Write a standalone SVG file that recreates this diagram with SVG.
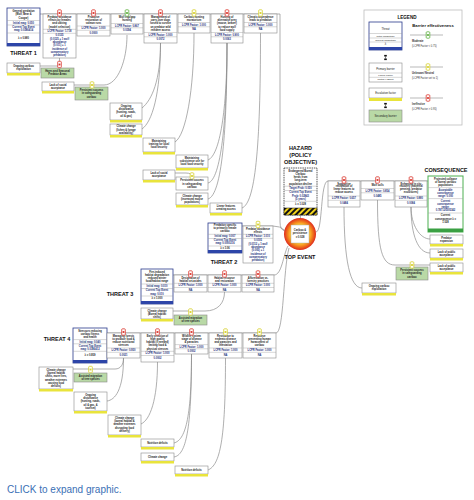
<svg xmlns="http://www.w3.org/2000/svg" xmlns:xlink="http://www.w3.org/1999/xlink" width="474" height="500" viewBox="0 0 474 500">
<style>
.bx{fill:#fff;stroke:#8a8a8a;stroke-width:0.6}
.th{fill:#fff;stroke:#2a3a8c;stroke-width:0.8}
.tb{fill:#2d45a8}
.sec{fill:#b9d9a6;stroke:#8a8a8a;stroke-width:0.6}
.bar{fill:#e9e43c}
.sp{stroke:#9a9a9a;stroke-width:0.4}
.ln{fill:none;stroke:#8c8c8c;stroke-width:0.7}
.t{font-family:"Liberation Sans",Arial,sans-serif;font-size:2.6px;font-weight:bold;fill:#222;text-anchor:middle}
.v{fill:#1c2f7a}
.lab{font-family:"Liberation Sans",Arial,sans-serif;font-size:5.5px;font-weight:bold;fill:#111;text-anchor:middle}
.lg{font-family:"Liberation Sans",Arial,sans-serif;font-size:2.8px;fill:#222;text-anchor:middle}
.lgl{font-family:"Liberation Sans",Arial,sans-serif;font-size:2.6px;font-weight:bold;fill:#333}
</style>
<defs>
<g id="mR"><rect x="-1.8" y="-3.2" width="3.6" height="6.4" rx="0.8" fill="#fff" stroke="#d9342b" stroke-width="0.8"/><rect x="-0.9" y="-0.9" width="1.8" height="1.8" fill="#d9342b"/></g>
<g id="mG"><rect x="-1.8" y="-3.2" width="3.6" height="6.4" rx="0.8" fill="#fff" stroke="#5cae3c" stroke-width="0.8"/><rect x="-0.9" y="-0.9" width="1.8" height="1.8" fill="#5cae3c"/></g>
<g id="mY"><rect x="-1.8" y="-3.2" width="3.6" height="6.4" rx="0.8" fill="#fff" stroke="#d6cf2a" stroke-width="0.8"/><rect x="-0.9" y="-0.9" width="1.8" height="1.8" fill="#d6cf2a"/></g>
<g id="mK"><rect x="-1.3" y="-2.6" width="2.6" height="1.6" fill="#111"/><rect x="-1.3" y="1" width="2.6" height="1.6" fill="#111"/><line x1="0" y1="-1" x2="0" y2="1" stroke="#111" stroke-width="0.5"/></g>
<pattern id="haz" width="4" height="4" patternUnits="userSpaceOnUse" patternTransform="rotate(45)"><rect width="2" height="4" fill="#111"/><rect x="2" width="2" height="4" fill="#f2d31b"/></pattern>
<radialGradient id="te" cx="0.5" cy="0.5" r="0.5"><stop offset="0.55" stop-color="#ffd23a"/><stop offset="0.75" stop-color="#f4891e"/><stop offset="1" stop-color="#df2a1c"/></radialGradient>
</defs>

<g id="connectors">
<path class="ln" d="M40,14 H280 V222 Q280,230 285,231"/>
<path class="ln" d="M59.5,58 V68 M40,66 H59.5"/>
<path class="ln" d="M74,85 H104 C118,85 127,60 127,35"/>
<path class="ln" d="M160.5,43 C160.5,80 152,100 142,108"/>
<path class="ln" d="M160.5,43 C160.5,95 152,122 142,129"/>
<path class="ln" d="M194,33 C194,90 186,135 175,142"/>
<path class="ln" d="M227,43 C227,110 220,155 208,160"/>
<path class="ln" d="M175,173 H186 Q192,173 192,177"/>
<path class="ln" d="M227,43 C227,120 221,180 208,183"/>
<path class="ln" d="M227,43 C227,130 222,195 208,199"/>
<path class="ln" d="M260.5,33 C260.5,150 255,203 242,208"/>
<path class="ln" d="M242,226 H273 Q280,226 284.5,230"/>
<path class="ln" d="M173,275 H274 C282,275 283,255 288,246"/>
<path class="ln" d="M173,311 H205 C218,311 224.5,303 224.5,292"/>
<path class="ln" d="M107,333 H276 C284,333 283,270 289,248"/>
<path class="ln" d="M73,369 H115 C121,369 123.5,364 123.5,358"/>
<path class="ln" d="M123.5,358 C123.5,390 115,400 107,401"/>
<path class="ln" d="M157.5,362 C157.5,400 150,420 141,424"/>
<path class="ln" d="M191.5,354 C191.5,420 185,440 174,443"/>
<path class="ln" d="M191.5,354 C191.5,430 186,455 174,457"/>
<path class="ln" d="M225.5,358 C225.5,440 220,465 208,470"/>
<path class="ln" d="M300.5,215 V218"/>
<path class="ln" d="M316,232 C323,232 320,181 328,181 H428"/>
<path class="ln" d="M411,207 C411,225 420,239 430,239"/>
<path class="ln" d="M411,207 C411,235 418,253 430,253"/>
<path class="ln" d="M377.5,200 C377.5,250 382,265 395,265 H430"/>
<path class="ln" d="M344,207 C344,260 350,288 362,288"/>
</g>

<!-- THREAT 1 -->
<g id="threat1">
<rect class="th" x="7" y="8" width="33" height="38"/>
<line class="sp" x1="7" x2="40" y1="20.5" y2="20.5"/><line class="sp" x1="7" x2="40" y1="25" y2="25"/><line class="sp" x1="7" x2="40" y1="33" y2="33"/>
<text class="t" x="23.5" y="12"><tspan x="23.5">General predation</tspan><tspan x="23.5" dy="3.3">(Wolf, Bear &amp;</tspan><tspan x="23.5" dy="3.3">Cougar)</tspan></text>
<text class="t v" x="23.5" y="23.5">Initial mag: 0.050</text>
<text class="t v" x="23.5" y="28"><tspan x="23.5">Current Top Event</tspan><tspan x="23.5" dy="3.3">mag: 0.0386414</tspan></text>
<text class="t" x="23.5" y="38.5">λ = 0.980</text>
<rect class="tb" x="7" y="43" width="33" height="3"/>
<text class="lab" x="23.5" y="55">THREAT 1</text>
</g>
<g id="b1-1"><rect class="bx" x="43" y="14" width="33" height="44"/>
<line class="sp" x1="43" x2="76" y1="29.3" y2="29.3"/><line class="sp" x1="43" x2="76" y1="33.3" y2="33.3"/>
<text class="t" x="59.5" y="17.6"><tspan x="59.5">Predator avoidance</tspan><tspan x="59.5" dy="3.3">effects by females</tspan><tspan x="59.5" dy="3.3">and calving</tspan><tspan x="59.5" dy="3.3">(model selection)</tspan></text>
<text class="t v" x="59.5" y="32.2">LCPR Factor: 1.718</text>
<text class="t v" x="59.5" y="36.3"><tspan x="59.5">0.0135</tspan><tspan x="59.5" dy="3.3">(0.0125 + 1 wolf</tspan><tspan x="59.5" dy="3.3">abundance</tspan><tspan x="59.5" dy="3.3">(0.011) + 1</tspan><tspan x="59.5" dy="3.3">incidence of</tspan><tspan x="59.5" dy="3.3">compensatory</tspan><tspan x="59.5" dy="3.3">predation)</tspan></text>
</g>
<g id="b1-2"><rect class="bx" x="77" y="14" width="33" height="22"/>
<line class="sp" x1="77" x2="110" y1="26" y2="26"/><line class="sp" x1="77" x2="110" y1="30.3" y2="30.3"/>
<text class="t" x="93.5" y="17.6"><tspan x="93.5">Proactive</tspan><tspan x="93.5" dy="3.3">restoration of</tspan><tspan x="93.5" dy="3.3">salmon runs</tspan></text>
<text class="t v" x="93.5" y="29">LCPR Factor: 1.000</text>
<text class="t v" x="93.5" y="33.5">0.0000</text>
</g>
<g id="b1-3"><rect class="bx" x="111" y="14" width="32" height="20"/>
<line class="sp" x1="111" x2="143" y1="23.5" y2="23.5"/><line class="sp" x1="111" x2="143" y1="27.8" y2="27.8"/>
<text class="t" x="127" y="17.8"><tspan x="127">Wolf trap/gap</tspan><tspan x="127" dy="3.3">hunting</tspan></text>
<text class="t v" x="127" y="26.5">LCPR Factor: 0.867</text>
<text class="t v" x="127" y="31">0.0394</text>
</g>
<g id="b1-4"><rect class="bx" x="144" y="14" width="33" height="29"/>
<line class="sp" x1="144" x2="177" y1="32.5" y2="32.5"/><line class="sp" x1="144" x2="177" y1="36.8" y2="36.8"/>
<text class="t" x="160.5" y="17.6"><tspan x="160.5">Management of</tspan><tspan x="160.5" dy="3.3">carry-over dogs</tspan><tspan x="160.5" dy="3.3">forced to survive</tspan><tspan x="160.5" dy="3.3">on predator wild</tspan><tspan x="160.5" dy="3.3">reindeer access</tspan></text>
<text class="t v" x="160.5" y="35.5">LCPR Factor: 1.000</text>
<text class="t v" x="160.5" y="40">0.0072</text>
</g>
<g id="b1-5"><rect class="bx" x="178" y="14" width="32" height="19"/>
<line class="sp" x1="178" x2="210" y1="22.5" y2="22.5"/><line class="sp" x1="178" x2="210" y1="26.8" y2="26.8"/>
<text class="t" x="194" y="17.6"><tspan x="194">Caribou hunting</tspan><tspan x="194" dy="3.3">moratorium</tspan></text>
<text class="t v" x="194" y="25.5">LCPR Factor: 1.000</text>
<text class="t v" x="194" y="30.3">NA</text>
</g>
<g id="b1-6"><rect class="bx" x="211" y="14" width="32" height="29"/>
<line class="sp" x1="211" x2="243" y1="32.5" y2="32.5"/><line class="sp" x1="211" x2="243" y1="36.8" y2="36.8"/>
<text class="t" x="227" y="17.6"><tspan x="227">Hunting of</tspan><tspan x="227" dy="3.3">alternative prey</tspan><tspan x="227" dy="3.3">(moose, beaver)</tspan><tspan x="227" dy="3.3">to reduce wolf</tspan><tspan x="227" dy="3.3">food supply</tspan></text>
<text class="t v" x="227" y="35.5">LCPR Factor: 0.900</text>
<text class="t v" x="227" y="40">0.0063</text>
</g>
<g id="b1-7"><rect class="bx" x="244" y="14" width="33" height="19"/>
<line class="sp" x1="244" x2="277" y1="22.5" y2="22.5"/><line class="sp" x1="244" x2="277" y1="26.8" y2="26.8"/>
<text class="t" x="260.5" y="17.6"><tspan x="260.5">Climatic dependence</tspan><tspan x="260.5" dy="3.3">leads to predation</tspan></text>
<text class="t v" x="260.5" y="25.5">LCPR Factor: 1.000</text>
<text class="t v" x="260.5" y="30.3">NA</text>
</g>
<g id="markers1">
<use href="#mR" x="59.5" y="13"/><use href="#mR" x="93.5" y="13"/><use href="#mG" x="127" y="13"/><use href="#mR" x="160.5" y="13"/><use href="#mY" x="194" y="13"/><use href="#mR" x="227" y="13"/><use href="#mY" x="260.5" y="13"/>
</g>

<!-- Threat 1 escalations -->
<g id="e1a"><rect class="bx" x="7" y="63" width="33" height="10"/><rect class="bar" x="7" y="73" width="33" height="2.5"/>
<text class="t" x="23.5" y="67"><tspan x="23.5">Ongoing caribou</tspan><tspan x="23.5" dy="3.3">exploitation</tspan></text></g>
<g id="s1a"><rect class="sec" x="41" y="68" width="33" height="10"/><use href="#mR" x="59.5" y="64.5"/>
<text class="t" x="57.5" y="72"><tspan x="57.5">Hares and Seasonal</tspan><tspan x="57.5" dy="3.3">Predator Areas</tspan></text></g>
<g id="e1b"><rect class="bx" x="42" y="82" width="32" height="9"/><rect class="bar" x="42" y="91" width="32" height="2.5"/>
<text class="t" x="58" y="85.8"><tspan x="58">Lack of social</tspan><tspan x="58" dy="3.3">acceptance</tspan></text></g>
<g id="s1b"><rect class="sec" x="75" y="87" width="33" height="13"/><use href="#mY" x="92" y="85"/>
<text class="t" x="91.5" y="91"><tspan x="91.5">Persistent success</tspan><tspan x="91.5" dy="3.3">in safeguarding</tspan><tspan x="91.5" dy="3.3">caribou</tspan></text></g>
<g id="e1c"><rect class="bx" x="110" y="103" width="32" height="17"/><rect class="bar" x="110" y="120" width="32" height="2.5"/>
<text class="t" x="126" y="106.6"><tspan x="126">Ongoing</tspan><tspan x="126" dy="3.3">disturbance</tspan><tspan x="126" dy="3.3">(hunting, roads,</tspan><tspan x="126" dy="3.3">oil &amp; gas)</tspan></text></g>
<g id="e1d"><rect class="bx" x="110" y="124" width="32" height="11"/><rect class="bar" x="110" y="135" width="32" height="2.5"/>
<text class="t" x="126" y="127.4"><tspan x="126">Climate change</tspan><tspan x="126" dy="3.3">(lichen &amp; forage</tspan><tspan x="126" dy="3.3">availability)</tspan></text></g>
<g id="e1e"><rect class="bx" x="143" y="138" width="32" height="14"/><rect class="bar" x="143" y="152" width="32" height="2.5"/>
<text class="t" x="159" y="141.6"><tspan x="159">Maintaining</tspan><tspan x="159" dy="3.3">training for local</tspan><tspan x="159" dy="3.3">food security</tspan></text></g>
<g id="e1f"><rect class="bx" x="176" y="155" width="32" height="13"/><rect class="bar" x="176" y="168" width="32" height="2.5"/>
<text class="t" x="192" y="158.6"><tspan x="192">Maintaining</tspan><tspan x="192" dy="3.3">subsistence use for</tspan><tspan x="192" dy="3.3">local food security</tspan></text></g>
<g id="e1g"><rect class="bx" x="143" y="170" width="32" height="10"/><rect class="bar" x="143" y="180" width="32" height="2.5"/>
<text class="t" x="159" y="174"><tspan x="159">Lack of social</tspan><tspan x="159" dy="3.3">acceptance</tspan></text></g>
<g id="s1c"><rect class="bx" x="176" y="177" width="32" height="13"/><use href="#mY" x="192" y="176"/>
<text class="t" x="192" y="181.2"><tspan x="192">Persistent success</tspan><tspan x="192" dy="3.3">in safeguarding</tspan><tspan x="192" dy="3.3">caribou</tspan></text></g>
<g id="e1h"><rect class="bx" x="176" y="193" width="32" height="12"/><rect class="bar" x="176" y="205" width="32" height="2.5"/>
<text class="t" x="192" y="196.6"><tspan x="192">Climate change</tspan><tspan x="192" dy="3.3">(increased moose</tspan><tspan x="192" dy="3.3">populations)</tspan></text></g>
<g id="e1i"><rect class="bx" x="210" y="203" width="32" height="10"/><rect class="bar" x="210" y="213" width="32" height="2.5"/>
<text class="t" x="226" y="207"><tspan x="226">Linear features</tspan><tspan x="226" dy="3.3">creating access</tspan></text></g>

<!-- THREAT 2 -->
<g id="threat2"><rect class="th" x="208" y="223" width="34" height="30"/>
<line class="sp" x1="208" x2="242" y1="234.3" y2="234.3"/><line class="sp" x1="208" x2="242" y1="238.5" y2="238.5"/><line class="sp" x1="208" x2="242" y1="246" y2="246"/>
<text class="t" x="225" y="226.3"><tspan x="225">Predation specific</tspan><tspan x="225" dy="2.9">to primarily female</tspan><tspan x="225" dy="2.9">caribou</tspan></text>
<text class="t v" x="225" y="237.3">Initial mag: 0.007</text>
<text class="t v" x="225" y="241.4"><tspan x="225">Current Top Event</tspan><tspan x="225" dy="2.9">mag: 0.0000216</tspan></text>
<text class="t" x="225" y="249">λ = 1.06</text>
<rect class="tb" x="208" y="250" width="34" height="3"/>
<text class="lab" x="224" y="263.5">THREAT 2</text></g>
<g id="b2-1"><rect class="bx" x="243" y="226" width="30" height="37"/>
<line class="sp" x1="243" x2="273" y1="234.3" y2="234.3"/><line class="sp" x1="243" x2="273" y1="238.3" y2="238.3"/>
<text class="t" x="258" y="229.5"><tspan x="258">Predator avoidance</tspan><tspan x="258" dy="3.3">effects</tspan></text>
<text class="t v" x="258" y="237.2">LCPR Factor: 1.010</text>
<text class="t v" x="258" y="241.3"><tspan x="258">0.0105</tspan><tspan x="258" dy="3.3">(0.0112 + 1 wolf</tspan><tspan x="258" dy="3.3">abundance</tspan><tspan x="258" dy="3.3">(0.005) + 1</tspan><tspan x="258" dy="3.3">incidence of</tspan><tspan x="258" dy="3.3">compensatory</tspan><tspan x="258" dy="3.3">predation)</tspan></text>
<use href="#mY" x="258" y="224.5"/></g>

<!-- THREAT 3 -->
<g id="threat3"><rect class="th" x="141" y="269" width="32" height="35"/>
<line class="sp" x1="141" x2="173" y1="284" y2="284"/><line class="sp" x1="141" x2="173" y1="288.5" y2="288.5"/><line class="sp" x1="141" x2="173" y1="296" y2="296"/>
<text class="t" x="157" y="272.5"><tspan x="157">Fire-induced</tspan><tspan x="157" dy="3.3">habitat degradation</tspan><tspan x="157" dy="3.3">reduced winter</tspan><tspan x="157" dy="3.3">food/habitat range</tspan></text>
<text class="t v" x="157" y="287">Initial mag: 0.010</text>
<text class="t v" x="157" y="291.3"><tspan x="157">Current Top Event</tspan><tspan x="157" dy="3.3">mag: 0.010</tspan></text>
<text class="t" x="157" y="299.3">λ = 1.000</text>
<rect class="tb" x="141" y="301" width="32" height="3"/>
<text class="lab" x="120" y="295.5">THREAT 3</text></g>
<g id="b3-1"><rect class="bx" x="174" y="275" width="33" height="17"/>
<line class="sp" x1="174" x2="207" y1="283.3" y2="283.3"/><line class="sp" x1="174" x2="207" y1="287.5" y2="287.5"/>
<text class="t" x="190.5" y="278.5"><tspan x="190.5">Designation of</tspan><tspan x="190.5" dy="3.3">habitat set-asides</tspan></text>
<text class="t v" x="190.5" y="286.3">LCPR Factor: 1.000</text><text class="t v" x="190.5" y="290.6">NA</text></g>
<g id="b3-2"><rect class="bx" x="208" y="275" width="33" height="17"/>
<line class="sp" x1="208" x2="241" y1="283.3" y2="283.3"/><line class="sp" x1="208" x2="241" y1="287.5" y2="287.5"/>
<text class="t" x="224.5" y="278.5"><tspan x="224.5">Habitat resource</tspan><tspan x="224.5" dy="3.3">and restoration</tspan></text>
<text class="t v" x="224.5" y="286.3">LCPR Factor: 1.000</text><text class="t v" x="224.5" y="290.6">NA</text></g>
<g id="b3-3"><rect class="bx" x="242" y="275" width="32" height="17"/>
<line class="sp" x1="242" x2="274" y1="283.3" y2="283.3"/><line class="sp" x1="242" x2="274" y1="287.5" y2="287.5"/>
<text class="t" x="258" y="278.5"><tspan x="258">Afforestation vs.</tspan><tspan x="258" dy="3.3">forestry practices</tspan></text>
<text class="t v" x="258" y="286.3">LCPR Factor: 1.000</text><text class="t v" x="258" y="290.6">NA</text></g>
<g id="markers3"><use href="#mR" x="190.5" y="274"/><use href="#mR" x="224.5" y="274"/><use href="#mR" x="258" y="274"/></g>
<g id="e3a"><rect class="bx" x="141" y="308" width="32" height="11"/><rect class="bar" x="141" y="319" width="32" height="2.5"/>
<text class="t" x="157" y="311.5"><tspan x="157">Climate change</tspan><tspan x="157" dy="3.3">(Boreal habitat</tspan><tspan x="157" dy="3.3">shifts)</tspan></text></g>
<g id="s3a"><rect class="sec" x="174" y="315" width="33" height="10"/><use href="#mY" x="190.5" y="312"/>
<text class="t" x="190.5" y="319"><tspan x="190.5">Assisted migration</tspan><tspan x="190.5" dy="3.3">of tree species</tspan></text></g>

<!-- THREAT 4 -->
<g id="threat4"><rect class="th" x="73" y="328" width="34" height="35"/>
<line class="sp" x1="73" x2="107" y1="339.6" y2="339.6"/><line class="sp" x1="73" x2="107" y1="343.8" y2="343.8"/><line class="sp" x1="73" x2="107" y1="351.3" y2="351.3"/>
<text class="t" x="90" y="331.5"><tspan x="90">Stressors reducing</tspan><tspan x="90" dy="3.3">caribou fitness</tspan><tspan x="90" dy="3.3">and health</tspan></text>
<text class="t v" x="90" y="342.5">Initial mag: 0.040</text>
<text class="t v" x="90" y="346.6"><tspan x="90">Current Top Event</tspan><tspan x="90" dy="3.3">mag: 0.0386412</tspan></text>
<text class="t" x="90" y="355.5">λ = 0.959</text>
<rect class="tb" x="73" y="360" width="34" height="3"/>
<text class="lab" x="57" y="341">THREAT 4</text></g>
<g id="b4-1"><rect class="bx" x="107" y="333" width="33" height="25"/>
<line class="sp" x1="107" x2="140" y1="348" y2="348"/><line class="sp" x1="107" x2="140" y1="352.3" y2="352.3"/>
<text class="t" x="123.5" y="336.5"><tspan x="123.5">Managing forests</tspan><tspan x="123.5" dy="3.3">to produce food &amp;</tspan><tspan x="123.5" dy="3.3">reduce nutritional</tspan><tspan x="123.5" dy="3.3">stresses</tspan></text>
<text class="t v" x="123.5" y="351">LCPR Factor: 0.950</text><text class="t v" x="123.5" y="355.6">0.0021</text></g>
<g id="b4-2"><rect class="bx" x="141" y="333" width="33" height="29"/>
<line class="sp" x1="141" x2="174" y1="351.3" y2="351.3"/><line class="sp" x1="141" x2="174" y1="355.5" y2="355.5"/>
<text class="t" x="157.5" y="336.5"><tspan x="157.5">Early selection of</tspan><tspan x="157.5" dy="3.3">high quality</tspan><tspan x="157.5" dy="3.3">habitat (if needed)</tspan><tspan x="157.5" dy="3.3">limiting food &amp;</tspan><tspan x="157.5" dy="3.3">physical stresses</tspan></text>
<text class="t v" x="157.5" y="354.2">LCPR Factor: 1.000</text><text class="t v" x="157.5" y="358.8">0.0002</text></g>
<g id="b4-3"><rect class="bx" x="175" y="333" width="33" height="21"/>
<line class="sp" x1="175" x2="208" y1="344.6" y2="344.6"/><line class="sp" x1="175" x2="208" y1="348.8" y2="348.8"/>
<text class="t" x="191.5" y="336.5"><tspan x="191.5">Wildlife system</tspan><tspan x="191.5" dy="3.3">stage of disease</tspan><tspan x="191.5" dy="3.3">&amp; parasites</tspan></text>
<text class="t v" x="191.5" y="347.5">LCPR Factor: 1.000</text><text class="t v" x="191.5" y="352">0.0002</text></g>
<g id="b4-4"><rect class="bx" x="209" y="333" width="33" height="25"/>
<line class="sp" x1="209" x2="242" y1="348" y2="348"/><line class="sp" x1="209" x2="242" y1="352.3" y2="352.3"/>
<text class="t" x="225.5" y="336.5"><tspan x="225.5">Resistance to</tspan><tspan x="225.5" dy="3.3">endemic disease</tspan><tspan x="225.5" dy="3.3">and parasites and</tspan><tspan x="225.5" dy="3.3">infestation</tspan></text>
<text class="t v" x="225.5" y="351">LCPR Factor: 1.000</text><text class="t v" x="225.5" y="355.6">NA</text></g>
<g id="b4-5"><rect class="bx" x="243" y="333" width="33" height="25"/>
<line class="sp" x1="243" x2="276" y1="348" y2="348"/><line class="sp" x1="243" x2="276" y1="352.3" y2="352.3"/>
<text class="t" x="259.5" y="336.5"><tspan x="259.5">Resource</tspan><tspan x="259.5" dy="3.3">preventing human</tspan><tspan x="259.5" dy="3.3">harassment of</tspan><tspan x="259.5" dy="3.3">caribou</tspan></text>
<text class="t v" x="259.5" y="351">LCPR Factor: 1.000</text><text class="t v" x="259.5" y="355.6">NA</text></g>
<g id="markers4"><use href="#mR" x="123.5" y="332"/><use href="#mR" x="157.5" y="332"/><use href="#mR" x="191.5" y="332"/><use href="#mY" x="225.5" y="332"/><use href="#mY" x="259.5" y="332"/></g>
<g id="e4a"><rect class="bx" x="39" y="367" width="34" height="22"/><rect class="bar" x="39" y="389" width="34" height="2.5"/>
<text class="t" x="56" y="370.6"><tspan x="56">Climate change</tspan><tspan x="56" dy="3.3">(boreal habitat</tspan><tspan x="56" dy="3.3">shifts, more fires,</tspan><tspan x="56" dy="3.3">weather extremes</tspan><tspan x="56" dy="3.3">causing food</tspan><tspan x="56" dy="3.3">deficits)</tspan></text></g>
<g id="s4a"><rect class="sec" x="74" y="373" width="33" height="9"/><use href="#mY" x="90.5" y="369.5"/>
<text class="t" x="90.5" y="376.8"><tspan x="90.5">Assisted migration</tspan><tspan x="90.5" dy="3.3">of tree species</tspan></text></g>
<g id="e4b"><rect class="bx" x="74" y="392" width="33" height="19"/><rect class="bar" x="74" y="411" width="33" height="2.5"/>
<text class="t" x="90.5" y="395.6"><tspan x="90.5">Ongoing</tspan><tspan x="90.5" dy="3.3">disturbance</tspan><tspan x="90.5" dy="3.3">(hunting, roads,</tspan><tspan x="90.5" dy="3.3">oil &amp; gas, &amp;</tspan><tspan x="90.5" dy="3.3">tourism)</tspan></text></g>
<g id="e4c"><rect class="bx" x="108" y="415" width="33" height="20"/><rect class="bar" x="108" y="435" width="33" height="2.5"/>
<text class="t" x="124.5" y="418.6"><tspan x="124.5">Climate change</tspan><tspan x="124.5" dy="3.3">(boreal habitat &amp;</tspan><tspan x="124.5" dy="3.3">weather extremes</tspan><tspan x="124.5" dy="3.3">disrupting food</tspan><tspan x="124.5" dy="3.3">delivery)</tspan></text></g>
<g id="e4d"><rect class="bx" x="141" y="439" width="33" height="8"/><rect class="bar" x="141" y="447" width="33" height="2.5"/>
<text class="t" x="157.5" y="444">Nutrition deficits</text></g>
<g id="e4e"><rect class="bx" x="141" y="453" width="33" height="8"/><rect class="bar" x="141" y="461" width="33" height="2.5"/>
<text class="t" x="157.5" y="458">Climate change</text></g>
<g id="e4f"><rect class="bx" x="175" y="466" width="33" height="8"/><rect class="bar" x="175" y="474" width="33" height="2.5"/>
<text class="t" x="191.5" y="471">Nutrition deficits</text></g>

<!-- HAZARD + TOP EVENT -->
<g id="hazard">
<text class="lab" x="300.5" y="150"><tspan x="300.5">HAZARD</tspan><tspan x="300.5" dy="7">(POLICY</tspan><tspan x="300.5" dy="7">OBJECTIVE)</tspan></text>
<rect x="284" y="168" width="33" height="47" fill="#fff" stroke="#111" stroke-width="0.7" stroke-dasharray="1.5 0.8"/>
<line class="sp" x1="284" x2="317" y1="186.2" y2="186.2"/><line class="sp" x1="284" x2="317" y1="190.5" y2="190.5"/><line class="sp" x1="284" x2="317" y1="201.3" y2="201.3"/>
<text class="t" x="300.5" y="171.5"><tspan x="300.5">Endangered Boreal</tspan><tspan x="300.5" dy="3.3">Caribou</tspan><tspan x="300.5" dy="3.3">herds from</tspan><tspan x="300.5" dy="3.3">long-term</tspan><tspan x="300.5" dy="3.3">population decline</tspan></text>
<text class="t v" x="300.5" y="189.2">Target Prob: 0.050</text>
<text class="t v" x="300.5" y="193.4"><tspan x="300.5">Current Top Event</tspan><tspan x="300.5" dy="3.3">Prob: 0.02843</tspan><tspan x="300.5" dy="3.3">(5 years)</tspan></text>
<text class="t" x="300.5" y="205">λ = 1.028</text>
<rect x="284" y="208" width="33" height="7" fill="url(#haz)" stroke="#111" stroke-width="0.5"/>
</g>
<g id="topevent">
<circle cx="300" cy="234" r="16" fill="url(#te)"/>
<rect x="291" y="225" width="18" height="18" fill="#fff" stroke="#999" stroke-width="0.4"/>
<text class="t" x="300" y="231"><tspan x="300">Caribou &amp;</tspan><tspan x="300" dy="3.3">persistence</tspan><tspan x="300" dy="3.3">= 0.028</tspan></text>
<text class="lab" x="300" y="259">TOP EVENT</text>
</g>

<!-- Consequence barriers -->
<g id="c1"><rect class="bx" x="328" y="181" width="32" height="26"/>
<line class="sp" x1="328" x2="360" y1="196" y2="196"/><line class="sp" x1="328" x2="360" y1="200.3" y2="200.3"/>
<text class="t" x="344" y="184.6"><tspan x="344">Supportive</tspan><tspan x="344" dy="2.8">restoration of</tspan><tspan x="344" dy="2.8">linear features to</tspan><tspan x="344" dy="2.8">reduce access</tspan></text>
<text class="t v" x="344" y="199">LCPR Factor: 0.657</text><text class="t v" x="344" y="204">0.0484</text></g>
<g id="c2"><rect class="bx" x="361" y="181" width="33" height="19"/>
<line class="sp" x1="361" x2="394" y1="188.5" y2="188.5"/><line class="sp" x1="361" x2="394" y1="192.8" y2="192.8"/>
<text class="t" x="377.5" y="186.2">Wolf culls</text>
<text class="t v" x="377.5" y="191.5">LCPR Factor: 0.854</text><text class="t v" x="377.5" y="196.8">0.0485</text></g>
<g id="c3"><rect class="bx" x="395" y="181" width="32" height="26"/>
<line class="sp" x1="395" x2="427" y1="196" y2="196"/><line class="sp" x1="395" x2="427" y1="200.3" y2="200.3"/>
<text class="t" x="411" y="184.6"><tspan x="411">Enhanced in situ</tspan><tspan x="411" dy="2.8">recovery (maternal</tspan><tspan x="411" dy="2.8">penning, predator</tspan><tspan x="411" dy="2.8">exclosures)</tspan></text>
<text class="t v" x="411" y="199">LCPR Factor: 0.880</text><text class="t v" x="411" y="204">0.0084</text></g>
<g id="markersC"><use href="#mR" x="344" y="180"/><use href="#mR" x="377.5" y="180"/><use href="#mR" x="411" y="180"/></g>

<g id="consequence">
<text class="lab" x="446" y="172">CONSEQUENCE</text>
<rect x="428" y="176" width="35" height="56" fill="#fff" stroke="#4caf50" stroke-width="1"/>
<line class="sp" x1="428" x2="463" y1="187.6" y2="187.6"/><line class="sp" x1="428" x2="463" y1="198.6" y2="198.6"/><line class="sp" x1="428" x2="463" y1="213" y2="213"/>
<text class="t" x="445.5" y="179.5"><tspan x="445.5">Projected collapse</tspan><tspan x="445.5" dy="3.3">of boreal caribou</tspan><tspan x="445.5" dy="3.3">populations</tspan></text>
<text class="t v" x="445.5" y="190.5"><tspan x="445.5">Acceptable</tspan><tspan x="445.5" dy="3.3">consequence</tspan><tspan x="445.5" dy="3.3">range: 0.000</tspan></text>
<text class="t v" x="445.5" y="201.5"><tspan x="445.5">Current</tspan><tspan x="445.5" dy="3.3">consequence</tspan><tspan x="445.5" dy="3.3">range:</tspan><tspan x="445.5" dy="3.3">0.787120305342</tspan></text>
<text class="t" x="445.5" y="216.3"><tspan x="445.5">Current</tspan><tspan x="445.5" dy="3.3">consequence λ =</tspan><tspan x="445.5" dy="3.3">1.028</tspan></text>
<rect x="428" y="228.5" width="35" height="3.5" fill="#3aa043"/>
</g>
<g id="re1"><rect class="bx" x="430" y="235" width="33" height="9"/><rect class="bar" x="430" y="244" width="33" height="2.5"/>
<text class="t" x="446.5" y="238.8"><tspan x="446.5">Predator</tspan><tspan x="446.5" dy="3.2">expansion</tspan></text></g>
<g id="re2"><rect class="bx" x="430" y="249" width="33" height="9"/><rect class="bar" x="430" y="258" width="33" height="2.5"/>
<text class="t" x="446.5" y="252.8"><tspan x="446.5">Lack of public</tspan><tspan x="446.5" dy="3.2">acceptance</tspan></text></g>
<g id="re3"><rect class="bx" x="430" y="263" width="33" height="9"/><rect class="bar" x="430" y="272" width="33" height="2.5"/>
<text class="t" x="446.5" y="266.8"><tspan x="446.5">Lack of public</tspan><tspan x="446.5" dy="3.2">acceptance</tspan></text></g>
<g id="rs1"><rect class="sec" x="396" y="267" width="32" height="13"/><use href="#mY" x="412" y="265"/>
<text class="t" x="412" y="271"><tspan x="412">Persistent success</tspan><tspan x="412" dy="3.3">in safeguarding</tspan><tspan x="412" dy="3.3">caribou</tspan></text></g>
<g id="re4"><rect class="bx" x="362" y="283" width="34" height="10"/><rect class="bar" x="362" y="293" width="34" height="2.5"/>
<text class="t" x="379" y="287"><tspan x="379">Ongoing caribou</tspan><tspan x="379" dy="3.3">exploitation</tspan></text></g>

<!-- LEGEND -->
<g id="legend">
<rect x="364" y="10" width="98" height="115" fill="#fff" stroke="#bdbdbd" stroke-width="0.8"/>
<text class="lab" x="407" y="18.5" style="font-size:4.6px">LEGEND</text>
<rect class="th" x="369" y="22" width="33" height="28"/>
<line class="sp" x1="369" x2="402" y1="33.5" y2="33.5"/><line class="sp" x1="369" x2="402" y1="38" y2="38"/><line class="sp" x1="369" x2="402" y1="42" y2="42"/>
<text class="lg" x="385.5" y="29.5">Threat</text>
<text class="lg" x="385.5" y="36.6" style="font-size:2.5px">Initial magnitude</text>
<text class="lg" x="385.5" y="40.9" style="font-size:2.5px">Current magnitude</text>
<text class="lg" x="385.5" y="45.2">λ</text>
<rect class="tb" x="369" y="47" width="33" height="3"/>
<use href="#mK" x="385.5" y="57.5"/>
<rect class="bx" x="369" y="63" width="33" height="19"/>
<line class="sp" x1="369" x2="402" y1="73" y2="73"/><line class="sp" x1="369" x2="402" y1="77.3" y2="77.3"/>
<text class="lg" x="385.5" y="69.5">Primary barrier</text>
<text class="lg" x="385.5" y="76.2" style="font-size:2.5px">LCPR Factor</text>
<text class="lg" x="385.5" y="80.4" style="font-size:2.5px">Partial λ Effect</text>
<rect class="bx" x="369" y="88" width="33" height="10"/><rect class="bar" x="369" y="98" width="33" height="3"/>
<text class="lg" x="385.5" y="94">Escalation factor</text>
<use href="#mK" x="385.5" y="105.5"/>
<rect class="sec" x="369" y="110" width="33" height="12"/>
<text class="lg" x="385.5" y="117">Secondary barrier</text>
<text class="lab" x="433" y="27" style="font-size:4.2px">Barrier effectiveness</text>
<line x1="410" y1="35" x2="443" y2="35" stroke="#8c8c8c" stroke-width="0.6"/><use href="#mG" x="428" y="35"/>
<text class="lgl" x="412" y="42">Moderate</text>
<text class="lgl" x="412" y="47" style="font-weight:normal">(LCPR Factor &lt; 0.75)</text>
<line x1="410" y1="67" x2="443" y2="67" stroke="#8c8c8c" stroke-width="0.6"/><use href="#mY" x="428" y="67"/>
<text class="lgl" x="412" y="73.5">Unknown/ Neutral</text>
<text class="lgl" x="412" y="78.5" style="font-weight:normal">(LCPR Factor set to 1)</text>
<line x1="410" y1="98" x2="443" y2="98" stroke="#8c8c8c" stroke-width="0.6"/><use href="#mR" x="428" y="98"/>
<text class="lgl" x="412" y="104.5">Ineffective</text>
<text class="lgl" x="412" y="109.5" style="font-weight:normal">(LCPR Factor &gt; 0.95)</text>
</g>

<text x="7" y="493" font-family="'Liberation Sans',Arial,sans-serif" font-size="10" fill="#3a6fb5">CLICK to expand graphic.</text>
</svg>
